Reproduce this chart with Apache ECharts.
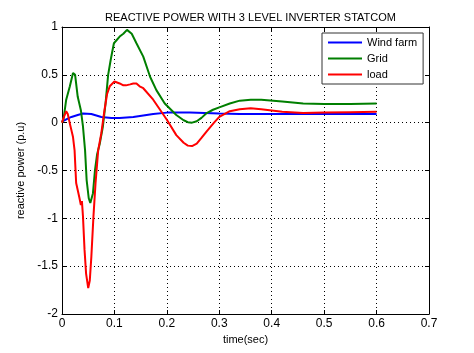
<!DOCTYPE html>
<html>
<head>
<meta charset="utf-8">
<script src="https://cdn.jsdelivr.net/npm/echarts@6/dist/echarts.min.js"></script>
<style>html,body{margin:0;padding:0;background:#fff}#c{width:474px;height:353px}</style>
</head>
<body>
<div id="c"></div>
<script>
const titleText = 'REACTIVE POWER WITH 3 LEVEL INVERTER STATCOM';
const xName = 'time(sec)';
const yName = 'reactive power (p.u)';
const seriesNames = ['Wind farm', 'Grid', 'load'];

const windT = [0, 0.01, 0.018, 0.03, 0.04, 0.056, 0.075, 0.094, 0.11, 0.136, 0.155, 0.174, 0.2, 0.244, 0.3, 0.339, 0.4, 0.5, 0.6];
const windV = [0.01, 0.04, 0.06, 0.08, 0.095, 0.09, 0.06, 0.05, 0.05, 0.06, 0.075, 0.09, 0.105, 0.105, 0.095, 0.09, 0.09, 0.09, 0.09];

const gridT = [0, 0.003, 0.008, 0.015, 0.021, 0.025, 0.03, 0.036, 0.04, 0.044, 0.047, 0.051, 0.054, 0.059, 0.063, 0.067, 0.072, 0.078, 0.083, 0.088, 0.093, 0.099, 0.11, 0.117, 0.124, 0.133, 0.142, 0.155, 0.168, 0.18, 0.196, 0.218, 0.232, 0.24, 0.248, 0.257, 0.266, 0.276, 0.288, 0.3, 0.32, 0.339, 0.36, 0.38, 0.42, 0.46, 0.5, 0.55, 0.6];
const gridV = [0, 0.04, 0.24, 0.38, 0.52, 0.5, 0.27, 0.13, -0.04, -0.29, -0.6, -0.79, -0.84, -0.74, -0.49, -0.33, -0.22, -0.04, 0.2, 0.5, 0.66, 0.83, 0.9, 0.93, 0.97, 0.93, 0.83, 0.69, 0.48, 0.34, 0.2, 0.08, 0.025, 0.005, 0.0, 0.015, 0.05, 0.1, 0.135, 0.16, 0.2, 0.23, 0.24, 0.24, 0.22, 0.2, 0.195, 0.195, 0.2];

const loadT = [0, 0.003, 0.008, 0.011, 0.015, 0.021, 0.024, 0.027, 0.033, 0.036, 0.038, 0.04, 0.043, 0.046, 0.05, 0.053, 0.056, 0.06, 0.064, 0.069, 0.075, 0.081, 0.086, 0.091, 0.1, 0.11, 0.117, 0.122, 0.13, 0.136, 0.142, 0.148, 0.155, 0.174, 0.2, 0.218, 0.232, 0.24, 0.248, 0.257, 0.266, 0.276, 0.29, 0.3, 0.32, 0.339, 0.36, 0.38, 0.42, 0.46, 0.5, 0.55, 0.6];
const loadV = [0, 0.05, 0.12, 0.09, -0.01, -0.15, -0.29, -0.63, -0.78, -0.86, -0.82, -0.98, -1.33, -1.58, -1.73, -1.65, -1.4, -0.98, -0.63, -0.29, -0.11, 0.13, 0.3, 0.38, 0.43, 0.41, 0.39, 0.39, 0.4, 0.41, 0.41, 0.38, 0.36, 0.24, 0.03, -0.13, -0.21, -0.24, -0.245, -0.22, -0.16, -0.09, 0, 0.06, 0.12, 0.14, 0.15, 0.14, 0.115, 0.1, 0.105, 0.11, 0.115];

const colors = ['#0000ff', '#007f00', '#ff0000'];
const zip = (t, v) => t.map((x, i) => [x, v[i]]);

const font = 'Liberation Sans, Arial, sans-serif';
const chart = echarts.init(document.getElementById('c'), null, {renderer: 'canvas'});
const fmt = v => String(Math.round(v * 10) / 10);

const baseX = {
  type: 'value', min: 0, max: 0.7, interval: 0.1,
  axisLine: {onZero: false, lineStyle: {color: '#000', width: 1}},
  axisTick: {inside: true, length: 4, lineStyle: {color: '#000'}},
};
const baseY = {
  type: 'value', min: -2, max: 1, interval: 0.5,
  axisLine: {onZero: false, lineStyle: {color: '#000', width: 1}},
  axisTick: {inside: true, length: 4, lineStyle: {color: '#000'}},
};

chart.setOption({
  animation: false,
  backgroundColor: '#fff',
  title: {
    text: titleText, left: 245.5, top: 7, textAlign: 'center',
    textStyle: {fontFamily: font, fontSize: 11, fontWeight: 'normal', color: '#000'}
  },
  grid: {left: 62, right: 45, top: 27, bottom: 39},
  legend: {
    data: seriesNames, orient: 'vertical', left: 322, top: 33,
    icon: 'rect', itemWidth: 34, itemHeight: 2, itemGap: 3,
    padding: [3, 6, 3, 6],
    borderColor: '#333', borderWidth: 1, backgroundColor: '#fff',
    textStyle: {fontFamily: font, fontSize: 11, color: '#000', lineHeight: 13}
  },
  xAxis: [
    Object.assign({}, baseX, {
      position: 'bottom',
      name: xName, nameLocation: 'middle', nameGap: 18,
      nameTextStyle: {fontFamily: font, fontSize: 11, color: '#000'},
      axisLabel: {fontFamily: font, fontSize: 12, color: '#000', margin: 4, formatter: fmt},
      splitLine: {show: true, lineStyle: {color: '#000', type: [1, 3], width: 1}}
    }),
    Object.assign({}, baseX, {
      position: 'top', axisLabel: {show: false}, splitLine: {show: false}
    })
  ],
  yAxis: [
    Object.assign({}, baseY, {
      position: 'left',
      name: yName, nameLocation: 'middle', nameGap: 28,
      nameTextStyle: {fontFamily: font, fontSize: 11, color: '#000'},
      axisLabel: {fontFamily: font, fontSize: 12, color: '#000', margin: 4, formatter: fmt},
      splitLine: {show: true, lineStyle: {color: '#000', type: [1, 3], width: 1}}
    }),
    Object.assign({}, baseY, {
      position: 'right', axisLabel: {show: false}, splitLine: {show: false}
    })
  ],
  series: [
    {name: seriesNames[0], type: 'line', data: zip(windT, windV)},
    {name: seriesNames[1], type: 'line', data: zip(gridT, gridV)},
    {name: seriesNames[2], type: 'line', data: zip(loadT, loadV)}
  ].map((s, i) => Object.assign(s, {
    xAxisIndex: 0, yAxisIndex: 0, showSymbol: false, symbol: 'none',
    lineStyle: {color: colors[i], width: 2}, itemStyle: {color: colors[i]}
  }))
});
</script>
</body>
</html>
